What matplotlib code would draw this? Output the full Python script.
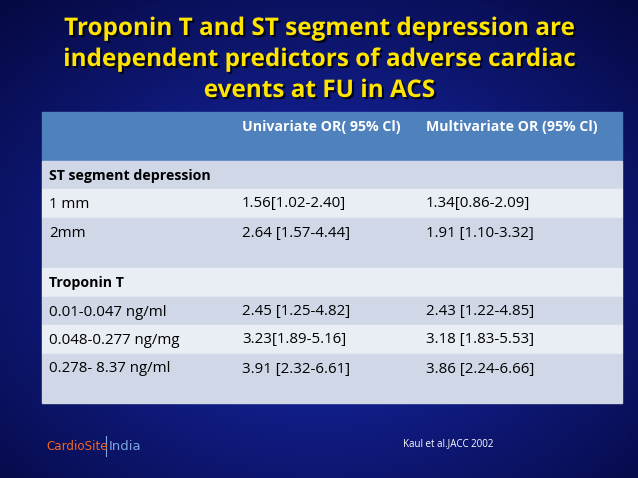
import matplotlib
matplotlib.use("Agg")
import matplotlib.pyplot as plt
import matplotlib.patheffects as pe
import numpy as np

title_lines = ["Troponin T and ST segment depression are",
               "independent predictors of adverse cardiac",
               "events at FU in ACS"]
headers = ["", "Univariate OR( 95% Cl)", "Multivariate OR (95% Cl)"]
row_labels = ["ST segment depression", "1 mm", "2mm", "Troponin T",
              "0.01-0.047 ng/ml", "0.048-0.277 ng/mg", "0.278- 8.37 ng/ml"]
univariate = ["", "1.56[1.02-2.40]", "2.64 [1.57-4.44]", "",
              "2.45 [1.25-4.82]", "3.23[1.89-5.16]", "3.91 [2.32-6.61]"]
multivariate = ["", "1.34[0.86-2.09]", "1.91 [1.10-3.32]", "",
                "2.43 [1.22-4.85]", "3.18 [1.83-5.53]", "3.86 [2.24-6.66]"]
bold_rows = [0, 3]
row_edges = [161, 189, 218, 268, 297, 325, 354, 403]
source = "Kaul et al.JACC 2002"

W, H = 638, 478
fig = plt.figure(figsize=(W/100, H/100), dpi=100)
ax = fig.add_axes([0, 0, 1, 1])
ax.set_xlim(0, W); ax.set_ylim(H, 0); ax.axis("off")

# background gradient
yy, xx = np.mgrid[0:H, 0:W]
r = np.sqrt(((xx - W/2)/W)**2 + ((yy - H*0.55)/H)**2)
t = np.clip(r/0.75, 0, 1)[..., None]
c_in = np.array([0x1a, 0x2c, 0xb8])/255
c_out = np.array([0x05, 0x08, 0x40])/255
img = c_in*(1-t) + c_out*t
ax.imshow(img, extent=(0, W, H, 0), aspect="auto", zorder=0)

font = "Open Sans"
for i, line in enumerate(title_lines):
    ax.text(319, 29 + 31*i, line, ha="center", va="center", fontsize=17.5,
            fontweight="bold", color="#FFE400", family=font,
            path_effects=[pe.withSimplePatchShadow(offset=(1.5, -1.5), shadow_rgbFace="black", alpha=0.8)])

x0, x1 = 42, 622
ax.add_patch(plt.Rectangle((x0, 112), x1-x0, 161-112, color="#4F81BD", zorder=1))
cols = [49, 242, 426]
fs = 10.8
for j, h in enumerate(headers):
    ax.text(cols[j], 127, h, ha="left", va="center", fontsize=fs-0.6,
            fontweight="bold", color="white", family=font, zorder=2)

for i, lab in enumerate(row_labels):
    top, bot = row_edges[i], row_edges[i+1]
    col = "#D0D8E8" if i % 2 == 0 else "#E9EDF4"
    ax.add_patch(plt.Rectangle((x0, top), x1-x0, bot-top, color=col, zorder=1))
    yc = top + 15
    ax.text(cols[0], yc, lab, ha="left", va="center", fontsize=fs if i not in bold_rows else fs-0.6, color="black",
            fontweight="bold" if i in bold_rows else "normal", family=font, zorder=2)
    ax.text(cols[1], yc, univariate[i], ha="left", va="center", fontsize=fs,
            color="black", family=font, zorder=2)
    ax.text(cols[2], yc, multivariate[i], ha="left", va="center", fontsize=fs,
            color="black", family=font, zorder=2)

ax.text(403, 444, source, ha="left", va="center", fontsize=7, color="white", family=font)
ax.text(46, 446, "CardioSite", ha="left", va="center", fontsize=9.5, color="#F26522", family="DejaVu Sans", stretch="condensed")
ax.plot([106, 106], [436, 456], color="#7EA6E0", lw=0.8)
ax.text(109, 446, "India", ha="left", va="center", fontsize=9.5, color="#7EA6E0", family="DejaVu Sans")

fig.savefig("out.png", dpi=100)
